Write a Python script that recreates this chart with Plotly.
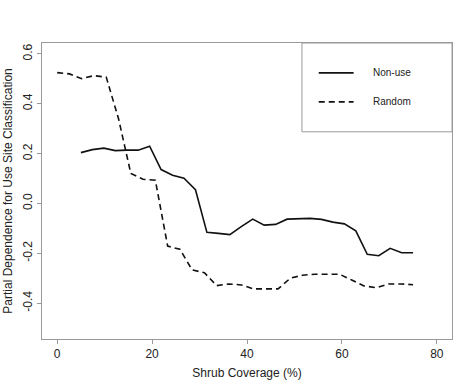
import plotly.graph_objects as go

# ---- data ----
nonuse_x = [5.0, 7.41, 9.83, 12.24, 14.66, 17.07, 19.48, 21.9, 24.31, 26.72,
            29.14, 31.55, 33.97, 36.38, 38.79, 41.21, 43.62, 46.03, 48.45, 50.86,
            53.28, 55.69, 58.1, 60.52, 62.93, 65.34, 67.76, 70.17, 72.59, 75.0]
nonuse_y = [0.204, 0.216, 0.222, 0.212, 0.214, 0.214, 0.230, 0.136, 0.113, 0.101,
            0.055, -0.116, -0.120, -0.125, -0.093, -0.063, -0.087, -0.084, -0.063, -0.061,
            -0.060, -0.064, -0.075, -0.082, -0.110, -0.204, -0.210, -0.180, -0.198, -0.198]

random_x = [0.0, 2.59, 5.17, 7.76, 10.34, 12.93, 15.52, 18.1, 20.69, 23.28,
            25.86, 28.45, 31.03, 33.62, 36.2, 38.79, 41.38, 43.97, 46.55, 49.14,
            51.72, 54.31, 56.9, 59.48, 62.07, 64.66, 67.24, 69.83, 72.41, 75.0]
random_y = [0.525, 0.520, 0.501, 0.513, 0.507, 0.340, 0.120, 0.097, 0.093, -0.171,
            -0.184, -0.267, -0.278, -0.330, -0.323, -0.327, -0.343, -0.343, -0.343, -0.300,
            -0.288, -0.284, -0.284, -0.284, -0.307, -0.331, -0.338, -0.323, -0.323, -0.326]

x_ticks = [0, 20, 40, 60, 80]
y_ticks = [-0.4, -0.2, 0.0, 0.2, 0.4, 0.6]
y_tick_labels = ["-0.4", "-0.2", "0.0", "0.2", "0.4", "0.6"]
series_names = ["Non-use", "Random"]

FONT = "Liberation Sans, Arial, sans-serif"
GRAY = "#9a9a9a"

fig = go.Figure()
fig.add_trace(go.Scatter(x=nonuse_x, y=nonuse_y, mode="lines", name=series_names[0],
                         line=dict(color="#111111", width=1.6), showlegend=False))
fig.add_trace(go.Scatter(x=random_x, y=random_y, mode="lines", name=series_names[1],
                         line=dict(color="#111111", width=1.6, dash="6px,4px"), showlegend=False))

# legend box (drawn manually, R style)
lx0, lx1 = 0.675, 0.760
fig.add_shape(type="rect", xref="paper", yref="paper", x0=0.634, x1=1.0, y0=0.700, y1=1.0,
              line=dict(color=GRAY, width=1), fillcolor="white", layer="below")
for yy, dash, name in [(0.899, "solid", series_names[0]), (0.801, "6px,4px", series_names[1])]:
    fig.add_shape(type="line", xref="paper", yref="paper", x0=lx0, x1=lx1, y0=yy, y1=yy,
                  line=dict(color="#111111", width=1.6, dash=dash))
    fig.add_annotation(xref="paper", yref="paper", x=0.802, y=yy, text=name, showarrow=False,
                       xanchor="left", yanchor="middle",
                       font=dict(family=FONT, size=10, color="#222222"))

fig.update_layout(
    width=474, height=392,
    margin=dict(l=42, r=22, t=43, b=53),
    paper_bgcolor="white", plot_bgcolor="white",
    font=dict(family=FONT, size=12, color="#222222"),
)
fig.update_xaxes(range=[-3.2, 83.2], tickvals=x_ticks, ticks="outside", ticklen=4,
                 tickcolor=GRAY, showline=True, linecolor=GRAY, linewidth=1, mirror=True,
                 showgrid=False, zeroline=False, automargin=False,
                 title=dict(text="Shrub Coverage (%)", standoff=8, font=dict(size=12)))
fig.update_yaxes(range=[-0.544, 0.644], tickvals=y_ticks, ticktext=y_tick_labels,
                 ticks="outside", ticklen=4, tickangle=-90, automargin=False,
                 tickcolor=GRAY, showline=True, linecolor=GRAY, linewidth=1, mirror=True,
                 showgrid=False, zeroline=False,
                 title=dict(text="Partial Dependence for Use Site Classification", standoff=6,
                            font=dict(size=12)))

fig.write_html("out.html", config={"displayModeBar": False},
               post_script="document.body.style.margin='0';")
